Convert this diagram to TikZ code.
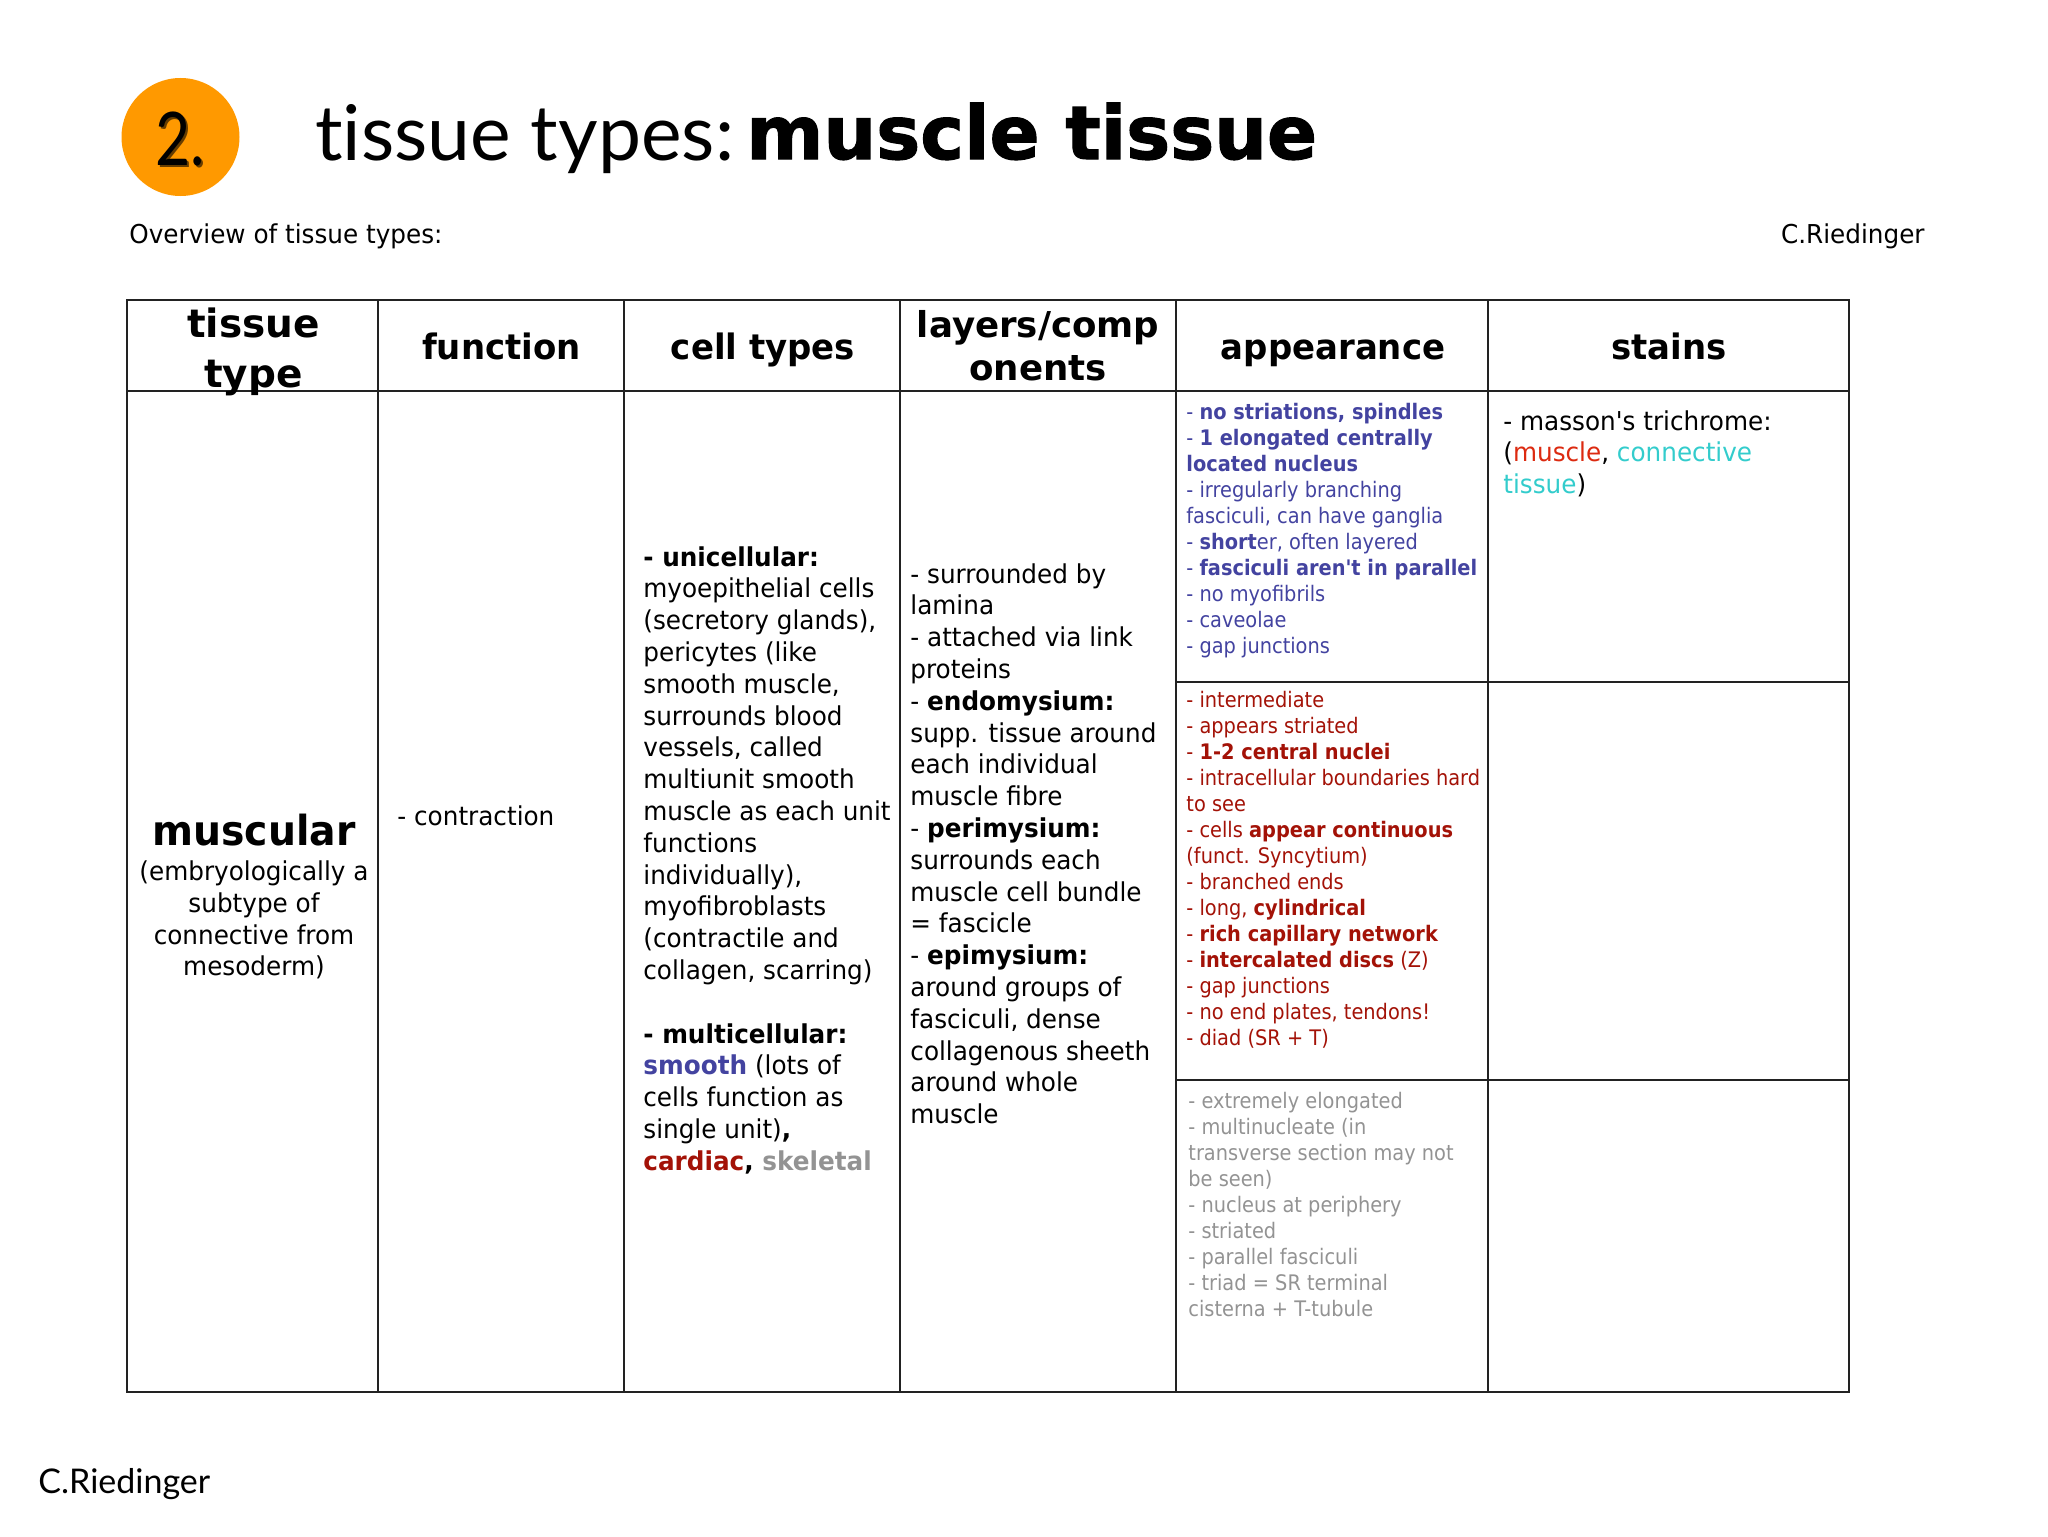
\documentclass[tikz,border=0pt]{standalone}
\usepackage{fontspec}
\usetikzlibrary{positioning}
\newfontfamily\versfont[FakeStretch=0.95]{DejaVu Sans}
\newfontfamily\smallvers[FakeStretch=0.905]{DejaVu Sans}
\newfontfamily\headvers[FakeStretch=0.97]{DejaVu Sans}
\newfontfamily\boldvers{DejaVu Sans}
\newfontfamily\titlevers[FakeBold=1.5]{DejaVu Sans Bold}
\newfontfamily\gillfont[Ligatures=NoCommon]{Lato}
\newfontfamily\gillnarrow[FakeStretch=0.82]{Lato}
\definecolor{dotorange}{HTML}{FF9900}
\definecolor{smoothblue}{HTML}{4343A0}
\definecolor{cardred}{HTML}{A31207}
\definecolor{skelgray}{HTML}{939393}
\definecolor{stainred}{HTML}{DC2A10}
\definecolor{stainteal}{HTML}{33CCCC}
\definecolor{rulegray}{HTML}{222222}
\tikzset{
  bodytext/.style={font=\versfont\fontsize{13}{15.9}\selectfont,align=left,anchor=north west},
  smalltext/.style={font=\smallvers\fontsize{10.7}{13}\selectfont,align=left,anchor=north west},
  headtext/.style={font=\headvers\bfseries\fontsize{17.5}{21.4}\selectfont,align=center},
  tablerule/.style={rulegray,line width=1pt},
}
\begin{document}
\begin{tikzpicture}[x=0.5pt,y=-0.5pt,every node/.style={inner sep=0pt}]
  \useasboundingbox(0,0)rectangle(2048,1536);
  \node[circle,fill=dotorange,minimum size=59pt](dot)at(180.5,137){};
  \node[font=\gillnarrow\fontsize{37}{40}\selectfont,text=black!60!dotorange,anchor=center](twoshade)at(182,141){2.};
  \node[font=\gillnarrow\fontsize{37}{40}\selectfont,anchor=center](two)at(180.5,139){2.};
  \node[font=\gillfont\fontsize{38.4}{46}\selectfont,anchor=base west](title)at(315,160){tissue types:};
  \node[font=\titlevers\fontsize{37}{42}\selectfont,anchor=base west](titlebold)at(746,159){muscle tissue};
  \node[font=\versfont\fontsize{13}{16}\selectfont,anchor=base west](overview)at(129,243){Overview of tissue types:};
  \node[font=\versfont\fontsize{13}{16}\selectfont,anchor=base east](credit)at(1925,243){C.Riedinger};
  \node[font=\gillfont\fontsize{17}{22}\selectfont,anchor=base west](footer)at(38,1493){C.Riedinger};
  \draw[tablerule](127,300)rectangle(1849,1392);
  \draw[tablerule](127,391)--(1849,391);
  \foreach \colx in {378,624,900,1176,1488}
    \draw[tablerule](\colx,300)--(\colx,1392);
  \draw[tablerule](1176,682)--(1849,682);
  \draw[tablerule](1176,1080)--(1849,1080);
  \node[headtext,font=\boldvers\bfseries\fontsize{19.5}{25}\selectfont](headtype)at(253.5,352){tissue\\type};
  \node[headtext,anchor=base](headfunc)at(501.5,359){function};
  \node[headtext,anchor=base](headcell)at(763,359){cell types};
  \node[headtext,font=\boldvers\bfseries\fontsize{17.8}{21.6}\selectfont](headlayer)at(1038,346){layers/comp\\onents};
  \node[headtext,anchor=base](headlook)at(1333,359){appearance};
  \node[headtext,anchor=base](headstain)at(1669,359){stains};
  \node[font=\versfont\bfseries\fontsize{20.7}{25}\selectfont](muscular)at(254,830){muscular};
  \node[font=\versfont\fontsize{13}{15.9}\selectfont,align=center,below=7pt of muscular](subtype){(embryologically a\\subtype of\\connective from\\mesoderm)};
  \node[font=\versfont\fontsize{13}{15.9}\selectfont,anchor=west](contract)at(397,816){- contraction};
  \node[bodytext](cells)at(643,546){\textbf{- unicellular:}\\myoepithelial cells\\(secretory glands),\\pericytes (like\\smooth muscle,\\surrounds blood\\vessels, called\\multiunit smooth\\muscle as each unit\\functions\\individually),\\myofibroblasts\\(contractile and\\collagen, scarring)\\[15.9pt]\textbf{- multicellular:}\\\textbf{\textcolor{smoothblue}{smooth}} (lots of\\cells function as\\single unit)\textbf{,}\\\textbf{\textcolor{cardred}{cardiac}, \textcolor{skelgray}{skeletal}}};
  \node[bodytext](layers)at(910,563){- surrounded by\\lamina\\- attached via link\\proteins\\- \textbf{endomysium:}\\supp. tissue around\\each individual\\muscle fibre\\- \textbf{perimysium:}\\surrounds each\\muscle cell bundle\\= fascicle\\- \textbf{epimysium:}\\around groups of\\fasciculi, dense\\collagenous sheeth\\around whole\\muscle};
  \node[smalltext,text=smoothblue](lookblue)at(1186,402.5){- \textbf{no striations, spindles}\\- \textbf{1 elongated centrally}\\\textbf{located nucleus}\\- irregularly branching\\fasciculi, can have ganglia\\- \textbf{short}er, often layered\\- \textbf{fasciculi aren't in parallel}\\- no myofibrils\\- caveolae\\- gap junctions};
  \node[smalltext,text=cardred](lookred)at(1186,691){- intermediate\\- appears striated\\- \textbf{1-2 central nuclei}\\- intracellular boundaries hard\\to see\\- cells \textbf{appear continuous}\\(funct. Syncytium)\\- branched ends\\- long, \textbf{cylindrical}\\- \textbf{rich capillary network}\\- \textbf{intercalated discs} (Z)\\- gap junctions\\- no end plates, tendons!\\- diad (SR + T)};
  \node[smalltext,text=skelgray](lookgray)at(1188,1092){- extremely elongated\\- multinucleate (in\\transverse section may not\\be seen)\\- nucleus at periphery\\- striated\\- parallel fasciculi\\- triad = SR terminal\\cisterna + T-tubule};
  \node[bodytext](stains)at(1503,410){- masson's trichrome:\\(\textcolor{stainred}{muscle}, \textcolor{stainteal}{connective}\\\textcolor{stainteal}{tissue})};
\end{tikzpicture}
\end{document}
